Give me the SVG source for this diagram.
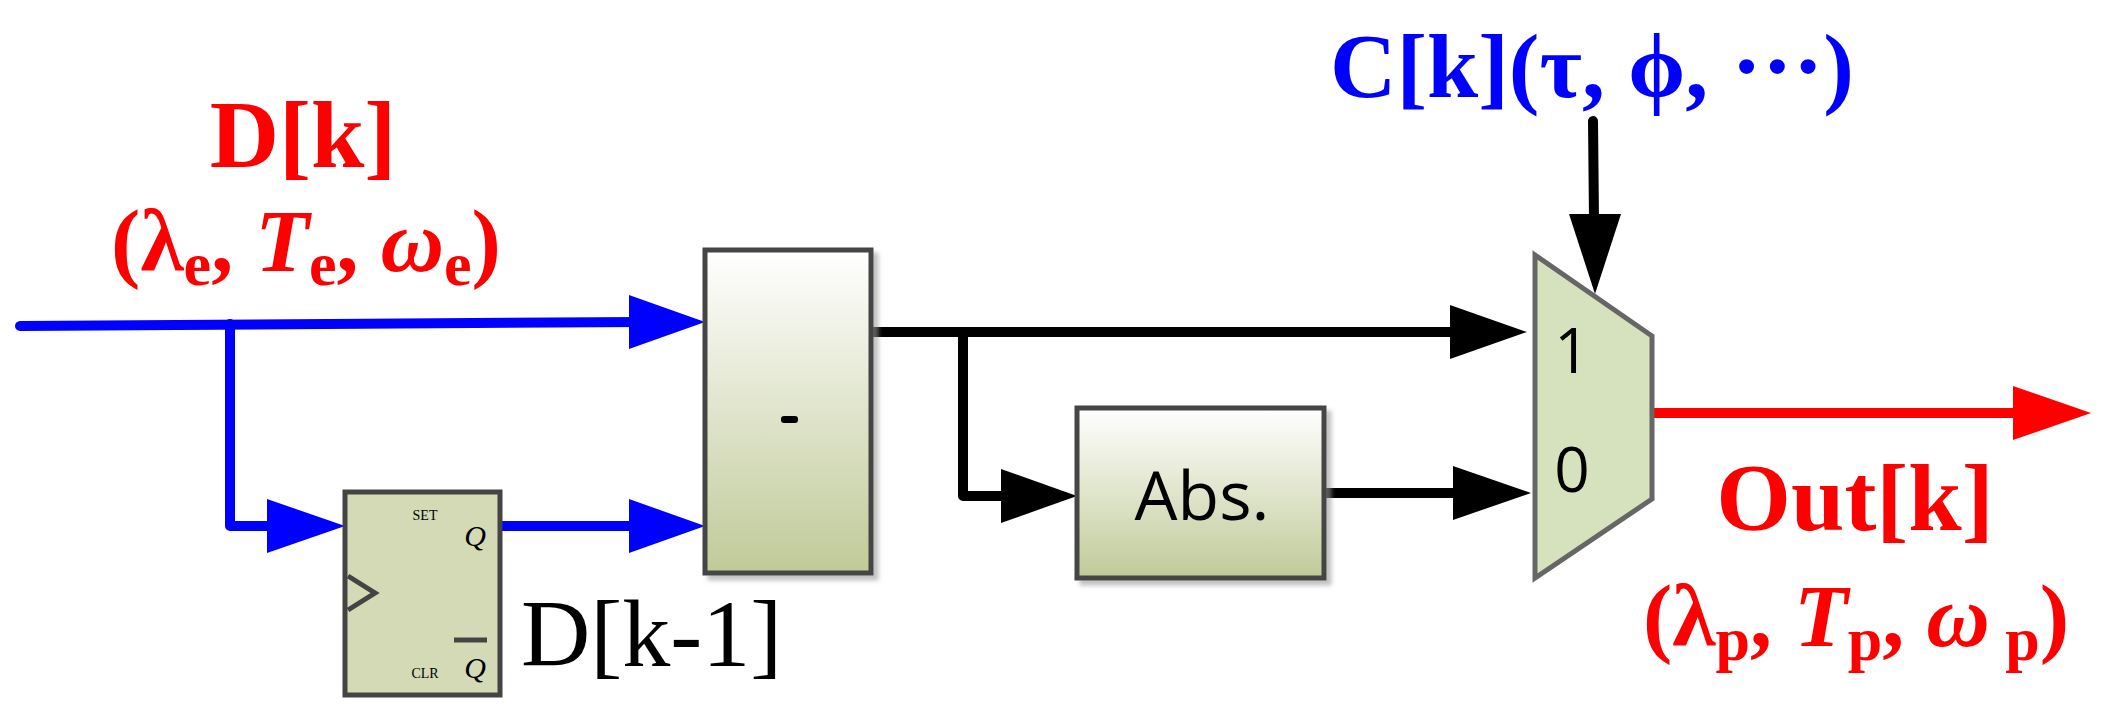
<svg xmlns="http://www.w3.org/2000/svg" width="2120" height="714" viewBox="0 0 2120 714">
<defs>
<linearGradient id="g" x1="0" y1="0" x2="0" y2="1"><stop offset="0" stop-color="#ffffff"/><stop offset="1" stop-color="#c0ca98"/></linearGradient>
<filter id="sh" x="-10%" y="-10%" width="130%" height="130%"><feDropShadow dx="5" dy="5" stdDeviation="2" flood-color="#999" flood-opacity="0.6"/></filter>
</defs>
<style>
.t{font-family:"Liberation Serif",serif;font-weight:bold}
.box{stroke:#444;stroke-width:5}
.bl{stroke:#0000ff;stroke-width:10;fill:none;stroke-linecap:round;stroke-linejoin:round}
.bk{stroke:#000;stroke-width:10;fill:none;stroke-linejoin:round}
</style>
<g id="connectors">
<path class="bl" d="M20,326 L640,322"/>
<polygon points="705,322 629,295 629,349" fill="#0000ff"/>
<path class="bl" d="M230,324 L230,526 L280,526"/>
<polygon points="345,526 267,499 267,553" fill="#0000ff"/>
<path class="bl" d="M500,526 L640,526" style="stroke-linecap:butt"/>
<polygon points="705,526 629,499 629,553" fill="#0000ff"/>
<path class="bk" d="M871,332 L1460,332"/>
<polygon points="1527,332 1450,305 1450,359" fill="#000"/>
<path class="bk" d="M963,332 L963,496 L1010,496"/>
<polygon points="1077,496 1001,469 1001,523" fill="#000"/>
<path class="bk" d="M1324,493 L1460,493"/>
<polygon points="1531,493 1453,466 1453,520" fill="#000"/>
<path class="bk" d="M1593,121 L1594,220" style="stroke-linecap:round"/>
<polygon points="1595,294 1569,214 1621,214" fill="#000"/>
<path d="M1652,413 L2020,413" stroke="#ff0000" stroke-width="10"/>
<polygon points="2091,413 2013,386 2013,440" fill="#ff0000"/>
</g>
<g id="dff">
<rect class="box" x="345" y="492" width="155" height="203" fill="#d3dab5"/>
<polyline points="348,576 375,593 348,610" fill="none" stroke="#444" stroke-width="5"/>
<text x="425" y="520" font-family="Liberation Serif,serif" font-size="14" text-anchor="middle">SET</text>
<text x="475" y="546" font-family="Liberation Serif,serif" font-size="30" font-style="italic" text-anchor="middle">Q</text>
<text x="425" y="678" font-family="Liberation Serif,serif" font-size="14" text-anchor="middle">CLR</text>
<line x1="454" y1="640" x2="487" y2="640" stroke="#444" stroke-width="5"/>
<text x="475" y="678" font-family="Liberation Serif,serif" font-size="30" font-style="italic" text-anchor="middle">Q</text>
<text x="521" y="666" font-family="Liberation Serif,serif" font-size="96">D[k-1]</text>
</g>
<g id="sub">
<rect class="box" x="705" y="250" width="166" height="323" fill="url(#g)" filter="url(#sh)"/>
<rect x="781" y="416" width="17" height="7" rx="3" fill="#000"/>
</g>
<g id="abs">
<rect class="box" x="1077" y="408" width="247" height="170" fill="url(#g)" filter="url(#sh)"/>
<text x="1202" y="520" font-family="Open Sans,sans-serif" font-size="68" text-anchor="middle">Abs.</text>
</g>
<g id="mux">
<polygon points="1535,255 1652,336 1652,499 1535,578" fill="#d6e1bd" stroke="#666" stroke-width="5"/>
<text x="1572" y="373" font-family="Open Sans,sans-serif" font-size="62" text-anchor="middle">1</text>
<text x="1572" y="492" font-family="Open Sans,sans-serif" font-size="62" text-anchor="middle">0</text>
</g>
<g id="labels">
<text class="t" x="303" y="167" font-size="96" fill="#ff0000" text-anchor="middle">D[k]</text>
<text class="t" x="306" y="271" font-size="88" fill="#ff0000" text-anchor="middle">(λ<tspan font-size="62" dy="14">e</tspan><tspan dy="-14">, </tspan><tspan font-style="italic">T</tspan><tspan font-size="62" dy="14">e</tspan><tspan dy="-14">, </tspan><tspan font-style="italic">ω</tspan><tspan font-size="62" dy="14">e</tspan><tspan dy="-14">)</tspan></text>
<text class="t" x="1592" y="97" font-size="92" fill="#0000ff" text-anchor="middle">C[k](τ, ϕ, ···)</text>
<text class="t" x="1855" y="530" font-size="96" fill="#ff0000" text-anchor="middle">Out[k]</text>
<text class="t" x="1856" y="646" font-size="88" fill="#ff0000" text-anchor="middle">(λ<tspan font-size="62" dy="14">p</tspan><tspan dy="-14">, </tspan><tspan font-style="italic">T</tspan><tspan font-size="62" dy="14">p</tspan><tspan dy="-14">, </tspan><tspan font-style="italic">ω</tspan><tspan font-size="62" dy="14"> p</tspan><tspan dy="-14">)</tspan></text>
</g>
</svg>
